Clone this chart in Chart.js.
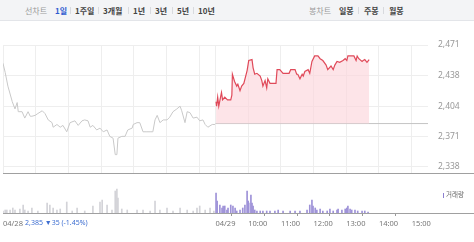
<!DOCTYPE html>
<html>
<head>
<meta charset="utf-8">
<script src="https://cdn.jsdelivr.net/npm/chart.js"></script>
<style>
  body { margin: 0; width: 474px; height: 242px; background: #fff; overflow: hidden; position: relative;
         font-family: "Noto Sans CJK KR", "Noto Sans", sans-serif; }
  .bar { position: absolute; left: 0; top: 0; width: 474px; height: 20px; background: #f3f4f6; border-bottom: 1px solid #e3e5e9; }
  .t { position: absolute; top: 5px; font-size: 8px; line-height: 11px; color: #444; font-weight: 600; white-space: nowrap; }
  .t.g { color: #9a9a9a; font-weight: 400; }
  .t.on { color: #2f5bd0; }
  .sep { position: absolute; top: 7px; width: 1px; height: 7px; background: #d8dade; }
  #main { position: absolute; left: 0; top: 20px; }
  #vol { position: absolute; left: 0; top: 188px; }
  .info { position: absolute; left: 25px; top: 218px; font-size: 7px; line-height: 10px; color: #3f6fd1; font-family: "Noto Sans", sans-serif; white-space: nowrap; }
  .vlab { position: absolute; left: 443px; top: 190px; font-size: 6.5px; line-height: 9px; color: #666; white-space: nowrap; }
  .vlab i { display: inline-block; width: 1px; height: 5px; background: #8b7fd0; margin-right: 2px; vertical-align: -1px; }
</style>
</head>
<body>
<div class="bar"></div>
<span class="t g" style="left:25px">선차트</span>
<span class="t on" style="left:55px">1일</span>
<span class="sep" style="left:70px"></span>
<span class="t" style="left:75px">1주일</span>
<span class="sep" style="left:98px"></span>
<span class="t" style="left:103px">3개월</span>
<span class="sep" style="left:128px"></span>
<span class="t" style="left:133px">1년</span>
<span class="sep" style="left:150px"></span>
<span class="t" style="left:155px">3년</span>
<span class="sep" style="left:172px"></span>
<span class="t" style="left:177px">5년</span>
<span class="sep" style="left:193px"></span>
<span class="t" style="left:198px">10년</span>
<span class="t g" style="left:309px">봉차트</span>
<span class="t" style="left:339px">일봉</span>
<span class="sep" style="left:358px"></span>
<span class="t" style="left:364px">주봉</span>
<span class="sep" style="left:383px"></span>
<span class="t" style="left:389px">월봉</span>

<canvas id="main" width="474" height="168"></canvas>
<canvas id="vol" width="474" height="54"></canvas>
<div class="info">2,385 ▼35 (-1.45%)</div>
<div class="vlab"><i></i>거래량</div>

<script>
// minutes after 09:00
const day1Min = [0,4,9,17,22,26,28,35,40,46,50,53,59,64,72,77,83,90,92,99,105,110,117,123,132,138,145,150,156,160,165,172,178,184,191,196,202,206,209,211,218,224,229,237,239,246,251,257,264,270,275,279,283,288,294,301,306,312,319,325,328,334,338,343,349,356,361,367,371,376,384,389];
const day1Price = [2451,2441,2426,2409,2401,2408,2398,2398,2391,2398,2393,2393,2394,2396,2399,2396,2389,2386,2381,2384,2381,2383,2376,2386,2388,2383,2388,2389,2388,2381,2383,2378,2380,2376,2378,2371,2369,2351,2351,2369,2371,2371,2378,2380,2384,2386,2386,2376,2376,2376,2376,2389,2394,2386,2389,2389,2392,2398,2401,2404,2399,2386,2398,2397,2391,2392,2388,2389,2384,2381,2384,2384];

const day2Min = [1,2,4,6,11,13,17,22,28,30,31,35,39,41,45,48,52,58,61,67,69,72,76,82,85,87,91,94,96,100,105,111,113,118,124,131,135,138,146,149,151,155,159,161,164,170,173,177,182,188,192,197,203,206,212,216,219,223,228,234,238,241,243,250,254,258,260,263,269,271,274,278,282];
const day2Price = [2409,2404,2414,2404,2419,2411,2414,2411,2411,2416,2439,2431,2426,2428,2421,2426,2429,2443,2454,2455,2446,2439,2440,2437,2432,2426,2432,2424,2434,2429,2429,2429,2444,2444,2440,2440,2440,2444,2444,2439,2439,2434,2439,2437,2442,2444,2440,2453,2459,2459,2456,2454,2449,2444,2448,2444,2449,2453,2452,2454,2456,2454,2459,2459,2459,2454,2459,2456,2453,2454,2455,2452,2455];

const prevClose = 2385;

const day1VolMin = [0,4,7,13,18,22,31,37,40,46,53,64,81,86,92,99,105,117,127,136,150,165,178,182,191,200,206,209,211,218,228,246,257,270,279,288,301,312,325,338,349,356,361,371,380,387];
const day1Vol = [8,12,12,12,20,12,16,32,12,8,20,8,40,32,20,12,16,44,8,20,8,28,44,52,32,12,88,96,60,16,12,12,12,8,48,12,20,8,20,12,8,20,28,12,20,8];

const day2VolMin = [1,3,8,12,14,17,21,23,28,32,36,39,45,50,54,58,60,61,65,67,69,72,76,82,87,94,100,109,115,124,137,146,155,168,173,177,179,183,186,192,197,205,210,216,223,225,232,238,241,243,247,250,256,261,269,274,280];
const day2Vol = [80,48,32,20,28,28,12,20,32,28,20,8,12,20,32,88,48,40,72,40,28,12,8,8,8,8,8,8,12,8,8,8,8,12,32,52,28,20,12,16,8,8,16,8,12,16,12,16,20,28,16,12,12,8,8,8,4];

const dayLen = 390;           // 09:00 - 15:30
const yTicks = [2338, 2371, 2404, 2438, 2471];
const gridMin = [0,60,120,180,240,300,360,390,450,510,570,630,690,750];
const xTickMin = [0,390,450,510,570,630,690,750];
const xTickLabels = ['04/28','04/29','10:00','11:00','12:00','13:00','14:00','15:00'];

const pts = (mins, vals, off) => mins.map((m, i) => ({ x: m + off, y: vals[i] }));

const fullLines = {
    id: 'fullLines',
    afterDatasetsDraw(chart) {
        const { ctx, chartArea } = chart;
        ctx.save();
        ctx.strokeStyle = '#a0a0a0';
        ctx.lineWidth = 1;
        ctx.beginPath();
        const y = Math.round(chartArea.bottom) + 0.5;
        ctx.moveTo(3, y);
        ctx.lineTo(chart.width, y);
        ctx.stroke();
        ctx.restore();
    }
};

new Chart(document.getElementById('main'), {
    type: 'line',
    data: {
        datasets: [
            {
                data: pts(day1Min, day1Price, 0),
                borderColor: '#c9c9c9',
                borderWidth: 1,
                pointRadius: 0,
                fill: false
            },
            {
                data: pts(day2Min, day2Price, dayLen),
                borderColor: '#e04a5a',
                borderWidth: 1.2,
                pointRadius: 0,
                fill: { target: { value: prevClose } },
                backgroundColor: 'rgba(252, 214, 220, 0.65)'
            },
            {
                data: [{ x: dayLen, y: prevClose }, { x: dayLen * 2, y: prevClose }],
                borderColor: '#c4c4c4',
                borderWidth: 1,
                pointRadius: 0,
                fill: false
            }
        ]
    },
    options: {
        responsive: false,
        devicePixelRatio: 1,
        animation: false,
        layout: { padding: { top: 25, left: 3, bottom: 3, right: 0 } },
        plugins: { legend: { display: false }, tooltip: { enabled: false } },
        scales: {
            x: {
                type: 'linear',
                min: 0,
                max: dayLen * 2,
                afterBuildTicks: s => { s.ticks = gridMin.map(v => ({ value: v })); },
                afterFit: s => { s.height = 0; },
                ticks: { display: false },
                grid: { color: '#eeeeee', drawTicks: false },
                border: { display: false }
            },
            y: {
                position: 'right',
                min: 2331,
                max: 2471,
                afterBuildTicks: s => { s.ticks = yTicks.map(v => ({ value: v })); },
                afterFit: s => { s.width = 46; },
                ticks: {
                    padding: 10,
                    color: '#999',
                    font: { family: 'Noto Sans', size: 8.5 },
                    callback: v => v.toLocaleString('en-US')
                },
                grid: { color: '#eeeeee', drawTicks: false },
                border: { display: false }
            }
        }
    },
    plugins: [fullLines]
});

new Chart(document.getElementById('vol'), {
    type: 'bar',
    data: {
        datasets: [
            {
                data: pts(day1VolMin, day1Vol, 0),
                backgroundColor: '#d3d3d8',
                barThickness: 1,
                grouped: false
            },
            {
                data: pts(day2VolMin, day2Vol, dayLen),
                backgroundColor: '#9e92d8',
                barThickness: 1,
                grouped: false
            }
        ]
    },
    options: {
        responsive: false,
        devicePixelRatio: 1,
        animation: false,
        layout: { padding: { top: 0, left: 3, bottom: 0, right: 46 } },
        plugins: { legend: { display: false }, tooltip: { enabled: false } },
        scales: {
            x: {
                type: 'linear',
                min: 0,
                max: dayLen * 2,
                offset: false,
                afterBuildTicks: s => { s.ticks = xTickMin.map(v => ({ value: v })); },
                afterFit: s => { s.height = 29; },
                ticks: {
                    autoSkip: false,
                    maxRotation: 0,
                    align: 'start',
                    padding: 3,
                    color: '#777',
                    font: { family: 'Noto Sans', size: 7.5 },
                    callback: (v, i) => xTickLabels[i]
                },
                grid: {
                    drawOnChartArea: false,
                    tickLength: 3,
                    tickColor: c => (c.index >= 2 ? '#999' : 'rgba(0,0,0,0)')
                },
                border: { display: false }
            },
            y: {
                display: false,
                min: 0,
                max: 100
            }
        }
    },
    plugins: [fullLines]
});
</script>
</body>
</html>
